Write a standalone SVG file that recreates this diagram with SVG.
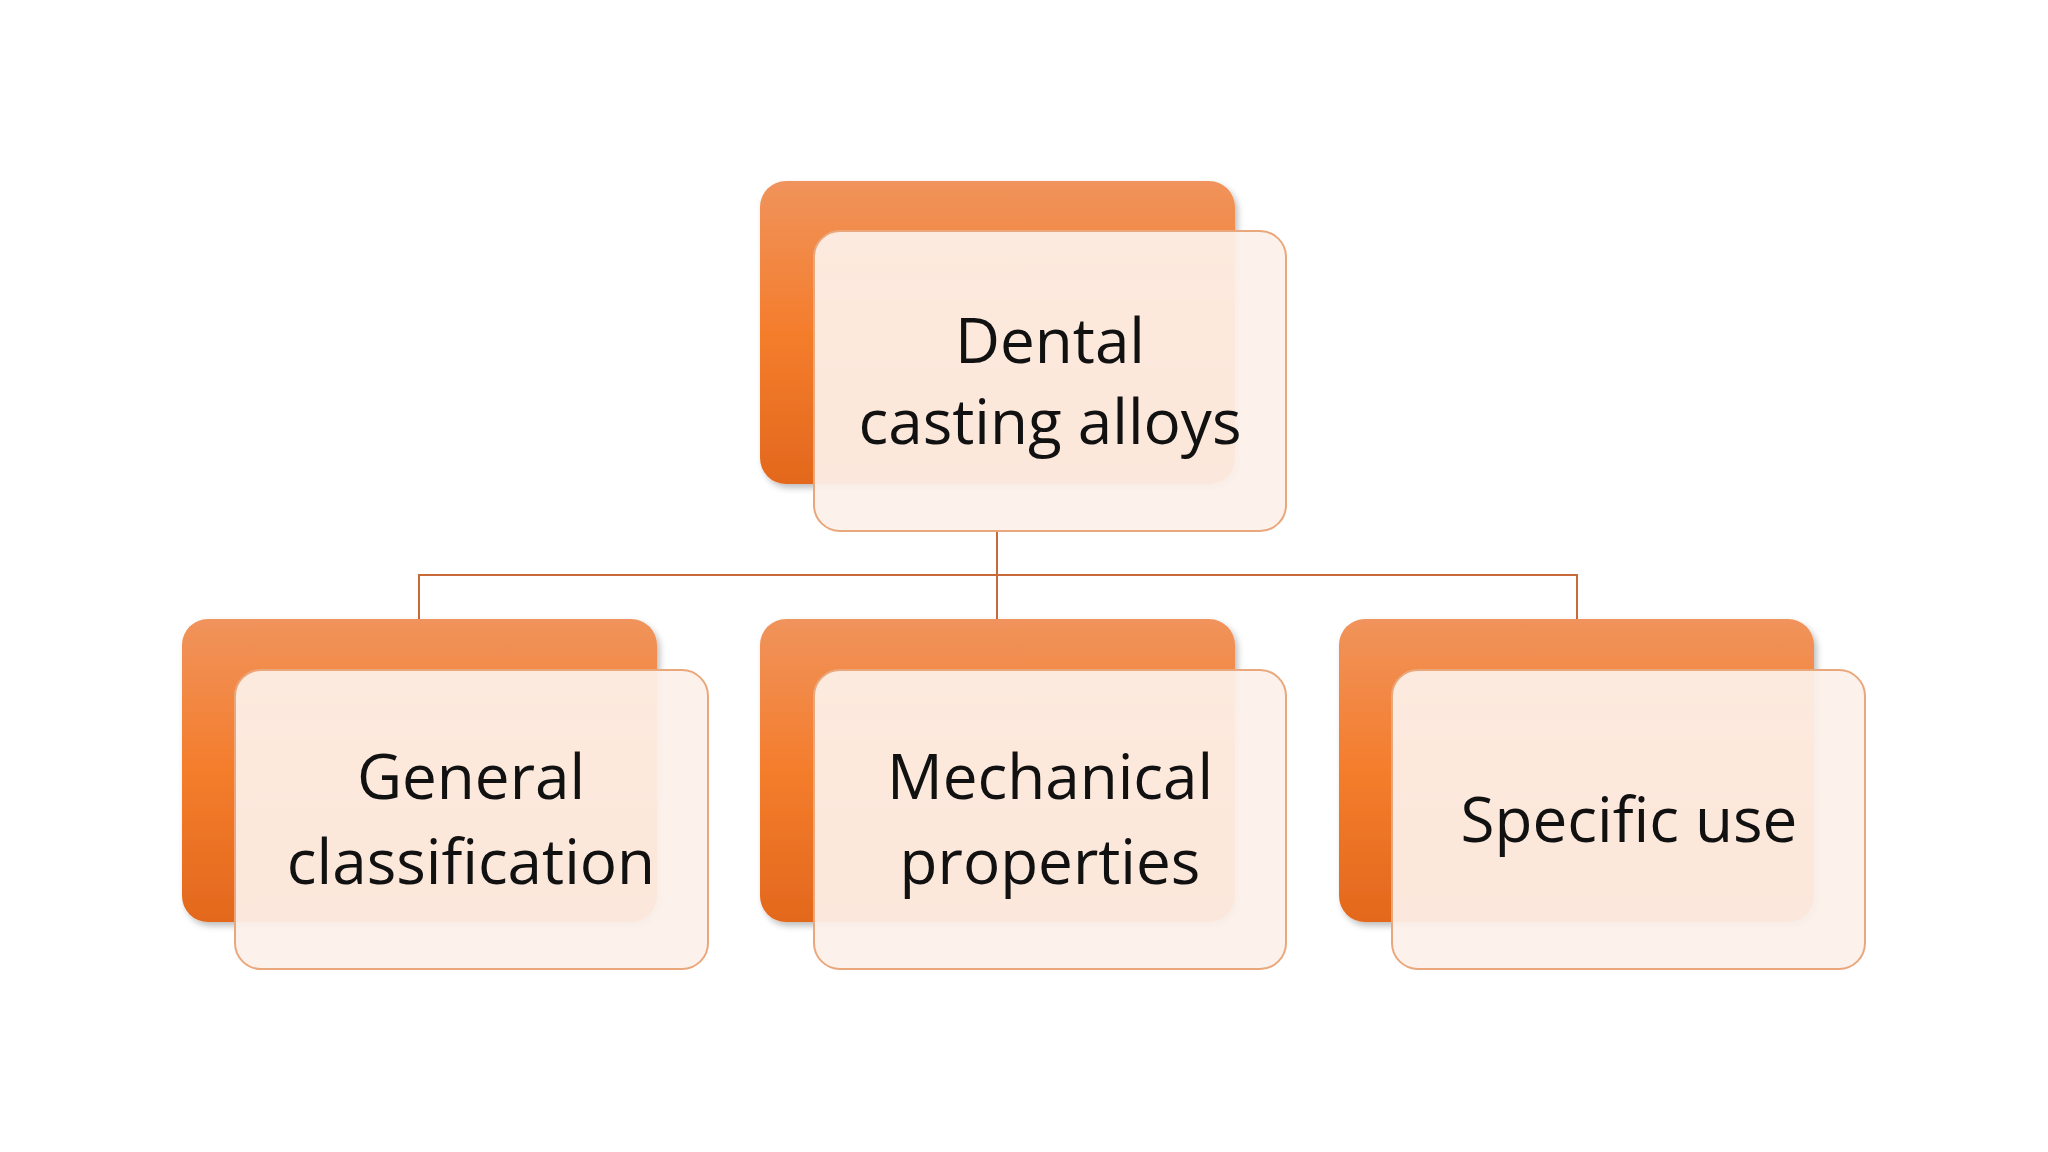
<svg xmlns="http://www.w3.org/2000/svg" width="2048" height="1152" viewBox="0 0 2048 1152">
<defs>
<linearGradient id="og" x1="0" y1="0" x2="0" y2="1">
<stop offset="0" stop-color="#f0935c"/><stop offset="0.5" stop-color="#f47d2c"/><stop offset="1" stop-color="#e3681d"/>
</linearGradient>
<filter id="sh" x="-10%" y="-10%" width="125%" height="125%"><feDropShadow dx="3" dy="4" stdDeviation="3" flood-color="#000" flood-opacity="0.25"/></filter>
</defs>
<style>
.back{fill:url(#og);filter:url(#sh)}
.front{fill:#fdf1ea;fill-opacity:0.93;stroke:#eaa77c;stroke-width:2}
.t{font-family:"Open Sans","Liberation Sans",sans-serif;font-size:62px;fill:#111;text-anchor:middle}
.c{fill:none;stroke:#c8693a;stroke-width:2}
</style>
<rect width="2048" height="1152" fill="#fff"/>
<g id="connectors">
<path class="c" d="M997 531V575M419 619V575H1577V619M997 575V619"/>
</g>
<g id="top">
<rect class="back" x="760" y="181" width="475" height="303" rx="26"/>
<rect class="front" x="814" y="231" width="472" height="300" rx="26"/>
<text class="t" x="1050" y="363">Dental</text>
<text class="t" x="1050" y="444">casting alloys</text>
</g>
<g id="general">
<rect class="back" x="182" y="619" width="475" height="303" rx="26"/>
<rect class="front" x="235" y="670" width="473" height="299" rx="26"/>
<text class="t" x="471" y="799">General</text>
<text class="t" x="471" y="884">classification</text>
</g>
<g id="mechanical">
<rect class="back" x="760" y="619" width="475" height="303" rx="26"/>
<rect class="front" x="814" y="670" width="472" height="299" rx="26"/>
<text class="t" x="1050" y="799">Mechanical</text>
<text class="t" x="1050" y="884">properties</text>
</g>
<g id="specific">
<rect class="back" x="1339" y="619" width="475" height="303" rx="26"/>
<rect class="front" x="1392" y="670" width="473" height="299" rx="26"/>
<text class="t" x="1629" y="842">Specific use</text>
</g>
</svg>
